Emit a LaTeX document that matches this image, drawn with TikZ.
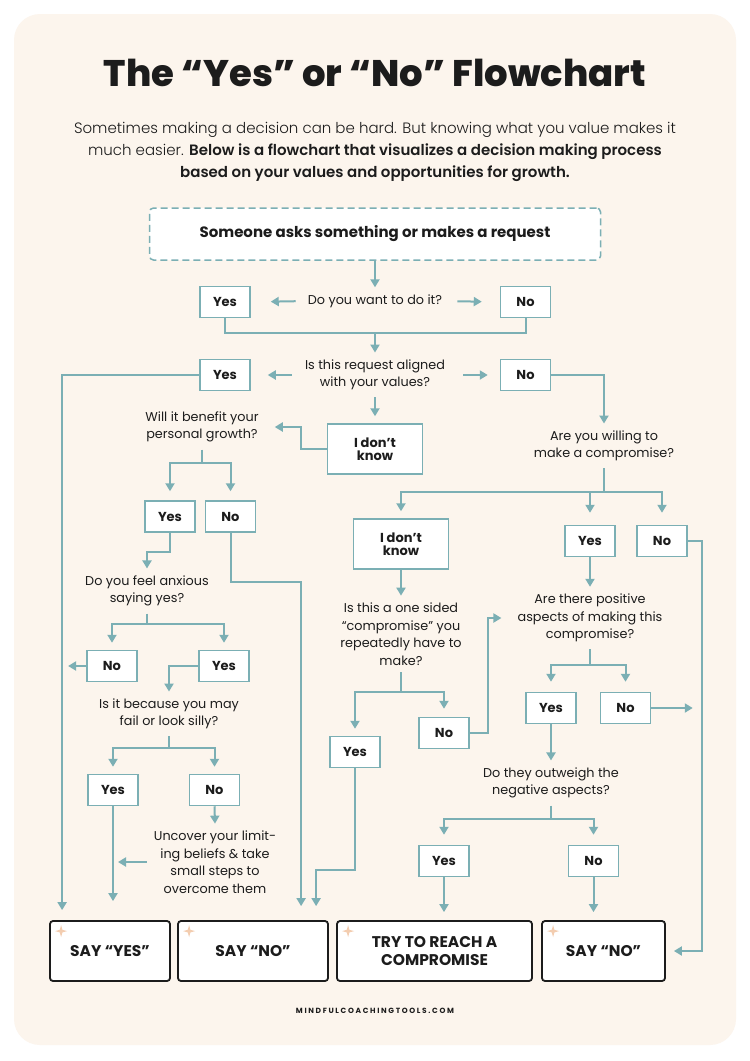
\documentclass[tikz,border=0pt]{standalone}
\usepackage{fontspec}
\setmainfont{Poppins}
\newfontfamily\heavyfont{Poppins ExtraBold}
\newfontfamily\lightfont{Poppins Light}[BoldFont=Poppins SemiBold]
\usetikzlibrary{arrows.meta, positioning, shapes.geometric, calc}

\definecolor{cream}{HTML}{FCF5ED}
\definecolor{flowteal}{HTML}{7BAFB4}
\definecolor{ink}{HTML}{1C1C1C}
\definecolor{peach}{HTML}{F3CDB0}

\tikzset{
  headline/.style={text=ink, font=\heavyfont\fontsize{37}{45}\selectfont},
  intro/.style={align=center, text=ink, font=\lightfont\fontsize{15}{22}\selectfont},
  startbox/.style={draw=flowteal, fill=white, line width=1.5pt, dash pattern=on 7pt off 4pt, rounded corners=4pt,
    minimum width=451pt, minimum height=52pt, text=ink, font=\bfseries\fontsize{15}{15}\selectfont},
  qtext/.style={align=center, inner xsep=0pt, inner ysep=7pt, text=ink, font=\fontsize{12.8}{17.5}\selectfont},
  ans/.style={draw=flowteal, fill=white, line width=1.5pt, minimum width=50pt, minimum height=31pt, inner sep=0pt,
    text height=9.5pt, text depth=0pt, text=ink, font=\bfseries\fontsize{13}{13}\selectfont},
  unsure/.style={draw=flowteal, fill=white, line width=1.5pt, minimum width=95pt, minimum height=50pt, inner sep=0pt,
    align=center, text=ink, font=\bfseries\fontsize{13}{13}\selectfont},
  result/.style={draw=ink, fill=white, line width=1.8pt, rounded corners=3pt, minimum height=60pt, inner sep=0pt,
    align=center, text=ink, font=\bfseries\fontsize{15.5}{17.5}\selectfont},
  spark/.pic={\fill[peach] (0,-6) -- (1.3,-1.3) -- (6,0) -- (1.3,1.3) -- (0,6) -- (-1.3,1.3) -- (-6,0) -- (-1.3,-1.3) -- cycle;},
  site/.style={text=ink, font=\bfseries\fontsize{7.5}{9}\selectfont\addfontfeature{LetterSpace=22}},
  flow/.style={draw=flowteal, line width=2pt, -{Triangle[length=8pt, width=9pt]}},
  link/.style={draw=flowteal, line width=2pt},
}

\begin{document}
\begin{tikzpicture}[x=1pt, y=-1pt]
  % Page and card
  \fill[white] (0,0) rectangle (750,1061);
  \useasboundingbox (0,0) rectangle (750,1061);
  \fill[cream, rounded corners=26pt] (14,14) rectangle (736,1045);

  % Heading
  \node[headline] (title) at (375,73) {The “Yes” or “No” Flowchart};
  \node[intro] (intro) at (375,152) {Sometimes making a decision can be hard. But knowing what you value makes it\\
    much easier. \textbf{Below is a flowchart that visualizes a decision making process}\\
    \textbf{based on your values and opportunities for growth.}};

  % Start
  \node[startbox] (start) at (375,234) {Someone asks something or makes a request};

  % Questions and answers
  \node[qtext] (q1) at (375,301) {Do you want to do it?};
  \node[ans] (y1) at (225,302) {Yes};
  \node[ans] (n1) at (525.5,302) {No};
  \coordinate (j1) at (375,333);

  \node[qtext] (q2) at (375,375) {Is this request aligned\\with your values?};
  \node[ans] (y2) at (225,375) {Yes};
  \node[ans] (n2) at (525.5,375) {No};
  \node[unsure] (dk1) at (375,449) {I don’t\\know};

  \node[qtext] (q3) at (202,427) {Will it benefit your\\personal growth?};
  \coordinate (f3) at (202,463);
  \node[ans] (y3) at (170,516.5) {Yes};
  \node[ans] (n3) at (230.5,516.5) {No};

  \node[qtext] (q4) at (147,591) {Do you feel anxious\\saying yes?};
  \coordinate (f4) at (147,624);
  \node[ans] (n4) at (112,666) {No};
  \node[ans] (y4) at (224,666) {Yes};

  \node[qtext] (q5) at (169,714) {Is it because you may\\fail or look silly?};
  \coordinate (f5) at (169,748);
  \node[ans] (y5) at (113,790) {Yes};
  \node[ans] (n5) at (214.5,790) {No};
  \node[qtext] (t6) at (215,862) {Uncover your limit-\\ing beliefs \& take\\small steps to\\overcome them};

  \node[qtext] (q7) at (604,446) {Are you willing to\\make a compromise?};
  \coordinate (f7) at (604,492);
  \node[unsure] (dk2) at (401,544) {I don’t\\know};
  \node[ans] (y7) at (590,541) {Yes};
  \node[ans] (n7) at (662,541) {No};

  \node[qtext] (q8) at (401,634) {Is this a one sided\\“compromise” you\\repeatedly have to\\make?};
  \coordinate (f8) at (401,692);
  \node[ans] (y8) at (355,752) {Yes};
  \node[ans] (n8) at (444,733) {No};

  \node[qtext] (q9) at (590,618) {Are there positive\\aspects of making this\\compromise?};
  \coordinate (f9) at (590,665);
  \node[ans] (y9) at (551,708) {Yes};
  \node[ans] (n9) at (625.5,708) {No};

  \node[qtext] (q10) at (551,783) {Do they outweigh the\\negative aspects?};
  \coordinate (f10) at (551,819);
  \node[ans] (y10) at (444,861) {Yes};
  \node[ans] (n10) at (593.5,861) {No};

  % Outcomes
  \node[result, minimum width=120pt] (r1) at (110,951) {SAY “YES”};
  \node[result, minimum width=150pt] (r2) at (253,951) {SAY “NO”};
  \node[result, minimum width=195pt] (r3) at (434.5,951) {TRY TO REACH A\\COMPROMISE};
  \node[result, minimum width=123pt] (r4) at (603.5,951) {SAY “NO”};
  \pic at ([shift={(12,11)}]r1.north west) {spark};
  \pic at ([shift={(12,11)}]r2.north west) {spark};
  \pic at ([shift={(12,11)}]r3.north west) {spark};
  \pic at ([shift={(12,11)}]r4.north west) {spark};
  \coordinate (yeslane) at ([xshift=13pt]r1.north west);
  \coordinate (nolane) at ([xshift=14pt]n7.east);

  \node[site] (site) at (375,1011) {MINDFULCOACHINGTOOLS.COM};

  % Top of the chart
  \draw[flow] (start.south) -- (q1.north);
  \draw[flow, shorten <=12pt, shorten >=20pt] (q1.west) -- (y1.east);
  \draw[flow, shorten <=15pt, shorten >=18pt] (q1.east) -- (n1.west);
  \draw[link] (y1.south) |- (j1);
  \draw[link] (n1.south) |- (j1);
  \draw[flow] (j1) -- (q2.north);
  \draw[flow, shorten <=13pt, shorten >=17pt] (q2.west) -- (y2.east);
  \draw[flow, shorten <=18pt, shorten >=12pt] (q2.east) -- (n2.west);
  \draw[flow, shorten >=10pt] (y2.west) -| (yeslane);
  \draw[flow] (n2.east) -| (q7.north);
  \draw[flow, shorten >=7pt] (q2.south) -- (dk1.north);
  \draw[flow, shorten >=16pt] (dk1.west) -- ++(-26,0) |- (q3.east);

  % Left branch
  \draw[link] (q3.south) -- (f3);
  \draw[flow, shorten >=9pt] (f3) -| (y3.north);
  \draw[flow, shorten >=9pt] (f3) -| (n3.north);
  \draw[flow] (y3.south) -- ++(0,19) -| (q4.north);
  \draw[flow, shorten >=14pt] (n3.south) -- ++(0,49) -| ([xshift=124pt]r2.north west);
  \draw[link] (q4.south) -- (f4);
  \draw[flow, shorten >=7pt] (f4) -| (n4.north);
  \draw[flow, shorten >=7pt] (f4) -| (y4.north);
  \draw[flow, shorten >=6pt] (n4.west) -- (n4.west -| yeslane);
  \draw[flow] (y4.west) -| (q5.north);
  \draw[link] (q5.south) -- (f5);
  \draw[flow, shorten >=7pt] (f5) -| (y5.north);
  \draw[flow, shorten >=7pt] (f5) -| (n5.north);
  \draw[flow, shorten >=19pt] (y5.south) -- (y5.south |- r1.north);
  \draw[flow] (n5.south) -- (t6.north);
  \draw[flow, shorten <=7pt, shorten >=5pt] (t6.west) -- (t6.west -| y5.south);

  % Right branch
  \draw[link] (q7.south) -- (f7);
  \draw[flow, shorten >=7pt] (f7) -| (dk2.north);
  \draw[flow, shorten >=12pt] (f7) -| (y7.north);
  \draw[flow, shorten >=12pt] (f7) -| (n7.north);
  \draw[flow, shorten >=8pt] (n7.east) -- (nolane) |- (r4.east);
  \draw[flow] (dk2.south) -- (q8.north);
  \draw[link] (q8.south) -- (f8);
  \draw[flow, shorten >=7pt] (f8) -| (y8.north);
  \draw[flow, shorten >=8pt] (f8) -| (n8.north);
  \draw[flow, shorten >=14pt] (y8.south) -- ++(0,102) -| ([xshift=139pt]r2.north west);
  \draw[flow, shorten >=16pt] (n8.east) -- ++(18,0) |- (q9.west);
  \draw[flow] (y7.south) -- (q9.north);
  \draw[link] (q9.south) -- (f9);
  \draw[flow, shorten >=10pt] (f9) -| (y9.north);
  \draw[flow, shorten >=10pt] (f9) -| (n9.north);
  \draw[flow, shorten >=9pt] (n9.east) -- (n9.east -| nolane);
  \draw[flow] (y9.south) -- (q10.north);
  \draw[link] (q10.south) -- (f10);
  \draw[flow, shorten >=10pt] (f10) -| (y10.north);
  \draw[flow, shorten >=10pt] (f10) -| (n10.north);
  \draw[flow, shorten >=8pt] (y10.south) -- (y10.south |- r3.north);
  \draw[flow, shorten >=8pt] (n10.south) -- (n10.south |- r4.north);
\end{tikzpicture}
\end{document}
